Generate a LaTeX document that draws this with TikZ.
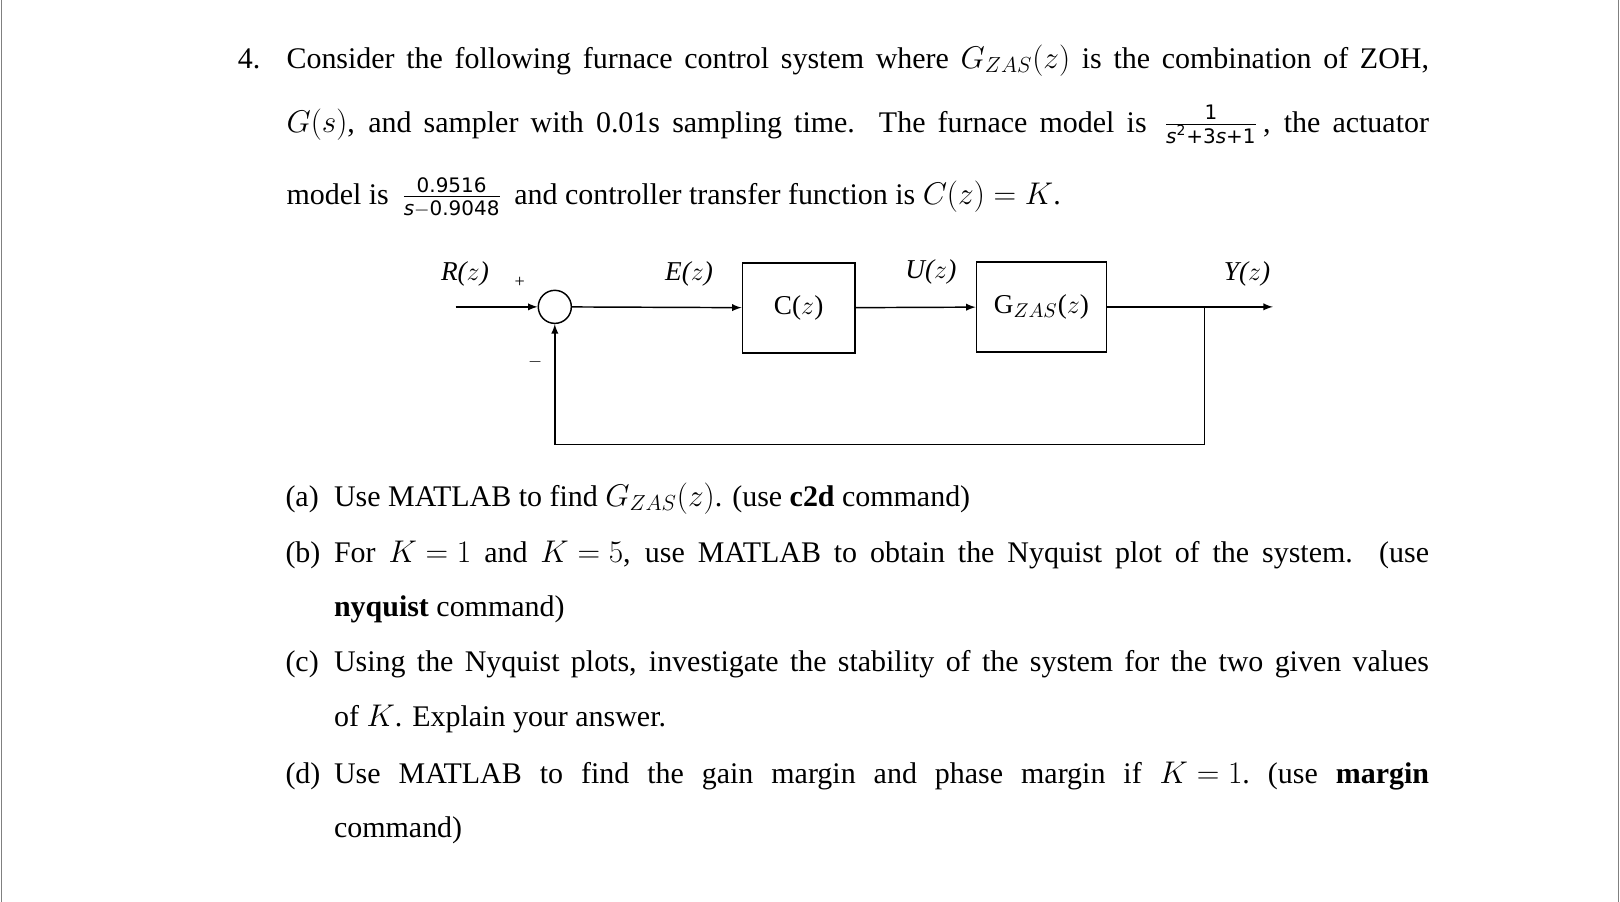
\documentclass[tikz,border=0pt]{standalone}
\usepackage{fontspec}
\setmainfont{Liberation Serif}
\newfontfamily\fracfont{DejaVu Sans}
\usetikzlibrary{positioning}
\tikzset{
  txt/.style={anchor=base west, inner sep=0pt, font=\fontsize{16.5}{20}\selectfont},
  blk/.style={draw, thick, minimum width=2.18cm, minimum height=1.74cm, font=\fontsize{15}{18}\selectfont},
  lbl/.style={font=\fontsize{15}{18}\selectfont\itshape},
  sig/.style={thick, -latex},
}
\newcommand{\fullline}[1]{\makebox[22.12cm][s]{#1}}
\newcommand{\itemline}[1]{\makebox[21.2cm][s]{#1}}
\newcommand{\sfr}[2]{\,\frac{\mbox{\fracfont\fontsize{11}{12}\selectfont #1}}{\mbox{\fracfont\fontsize{11}{12}\selectfont #2}}\,}
\begin{document}
\begin{tikzpicture}[x=0.02cm, y=-0.02cm]
\useasboundingbox (0,0) rectangle (1568,873);
\draw[gray] (1,0) -- (1,873);
\draw[gray] (1566,0) -- (1566,873);
% problem statement
\node[txt] (n4) at (230,66) {4.};
\node[txt] (l1) at (277,66) {\fullline{Consider the following furnace control system where $G_{ZAS}(z)$ is the combination of ZOH,}};
\node[txt] (l2) at (277,128) {\fullline{$G(s)$, and sampler with 0.01s sampling time. The furnace model is $\sfr{1}{\textit{s}\textsuperscript{2}+3\textit{s}+1}$, the actuator}};
\node[txt] (l3) at (277,198) {model is $\sfr{0.9516}{\textit{s}$-$0.9048}$ and controller transfer function is $C(z)=K$.};
% block diagram
\coordinate (in) at (441,297);
\node[draw, thick, circle, minimum size=0.64cm, inner sep=0pt] (sum) at (537,297) {};
\node[blk] (C) at (773,298) {C($z$)};
\node[blk, minimum width=2.52cm] (G) at (1008,297) {G$_{ZAS}$($z$)};
\coordinate (out) at (1232,297);
\coordinate (tap) at (1166,297);
\coordinate (fb) at (1166,430);
\draw[sig] (in) -- (sum);
\draw[sig] (sum) -- (C);
\draw[sig] (C) -- (G);
\draw[sig] (G) -- (out);
\draw[sig] (tap) -- (fb) -| (sum);
\node[lbl] (R) at (450,265) {R($z$)};
\node[lbl] (E) at (667,265) {E($z$)};
\node[lbl] (U) at (901,263) {U($z$)};
\node[lbl] (Y) at (1207,265) {Y($z$)};
\node (plus) at (503,273) {+};
\node (minus) at (518,350) {$-$};
% questions
\node[txt] (qa) at (276,490) {(a)};
\node[txt] (ta) at (323,490) {Use MATLAB to find $G_{ZAS}(z)$. (use \textbf{c2d} command)};
\node[txt] (qb) at (276,544) {(b)};
\node[txt] (tb) at (323,544) {\itemline{For \mbox{$K=1$} and \mbox{$K=5$}, use MATLAB to obtain the Nyquist plot of the system. (use}};
\node[txt] (tb2) at (323,597) {\textbf{nyquist} command)};
\node[txt] (qc) at (276,650) {(c)};
\node[txt] (tc) at (323,650) {\itemline{Using the Nyquist plots, investigate the stability of the system for the two given values}};
\node[txt] (tc2) at (323,703) {of $K$. Explain your answer.};
\node[txt] (qd) at (276,758) {(d)};
\node[txt] (td) at (323,758) {\itemline{Use MATLAB to find the gain margin and phase margin if \mbox{$K=1$.} (use \textbf{margin}}};
\node[txt] (td2) at (323,811) {command)};
\end{tikzpicture}
\end{document}
